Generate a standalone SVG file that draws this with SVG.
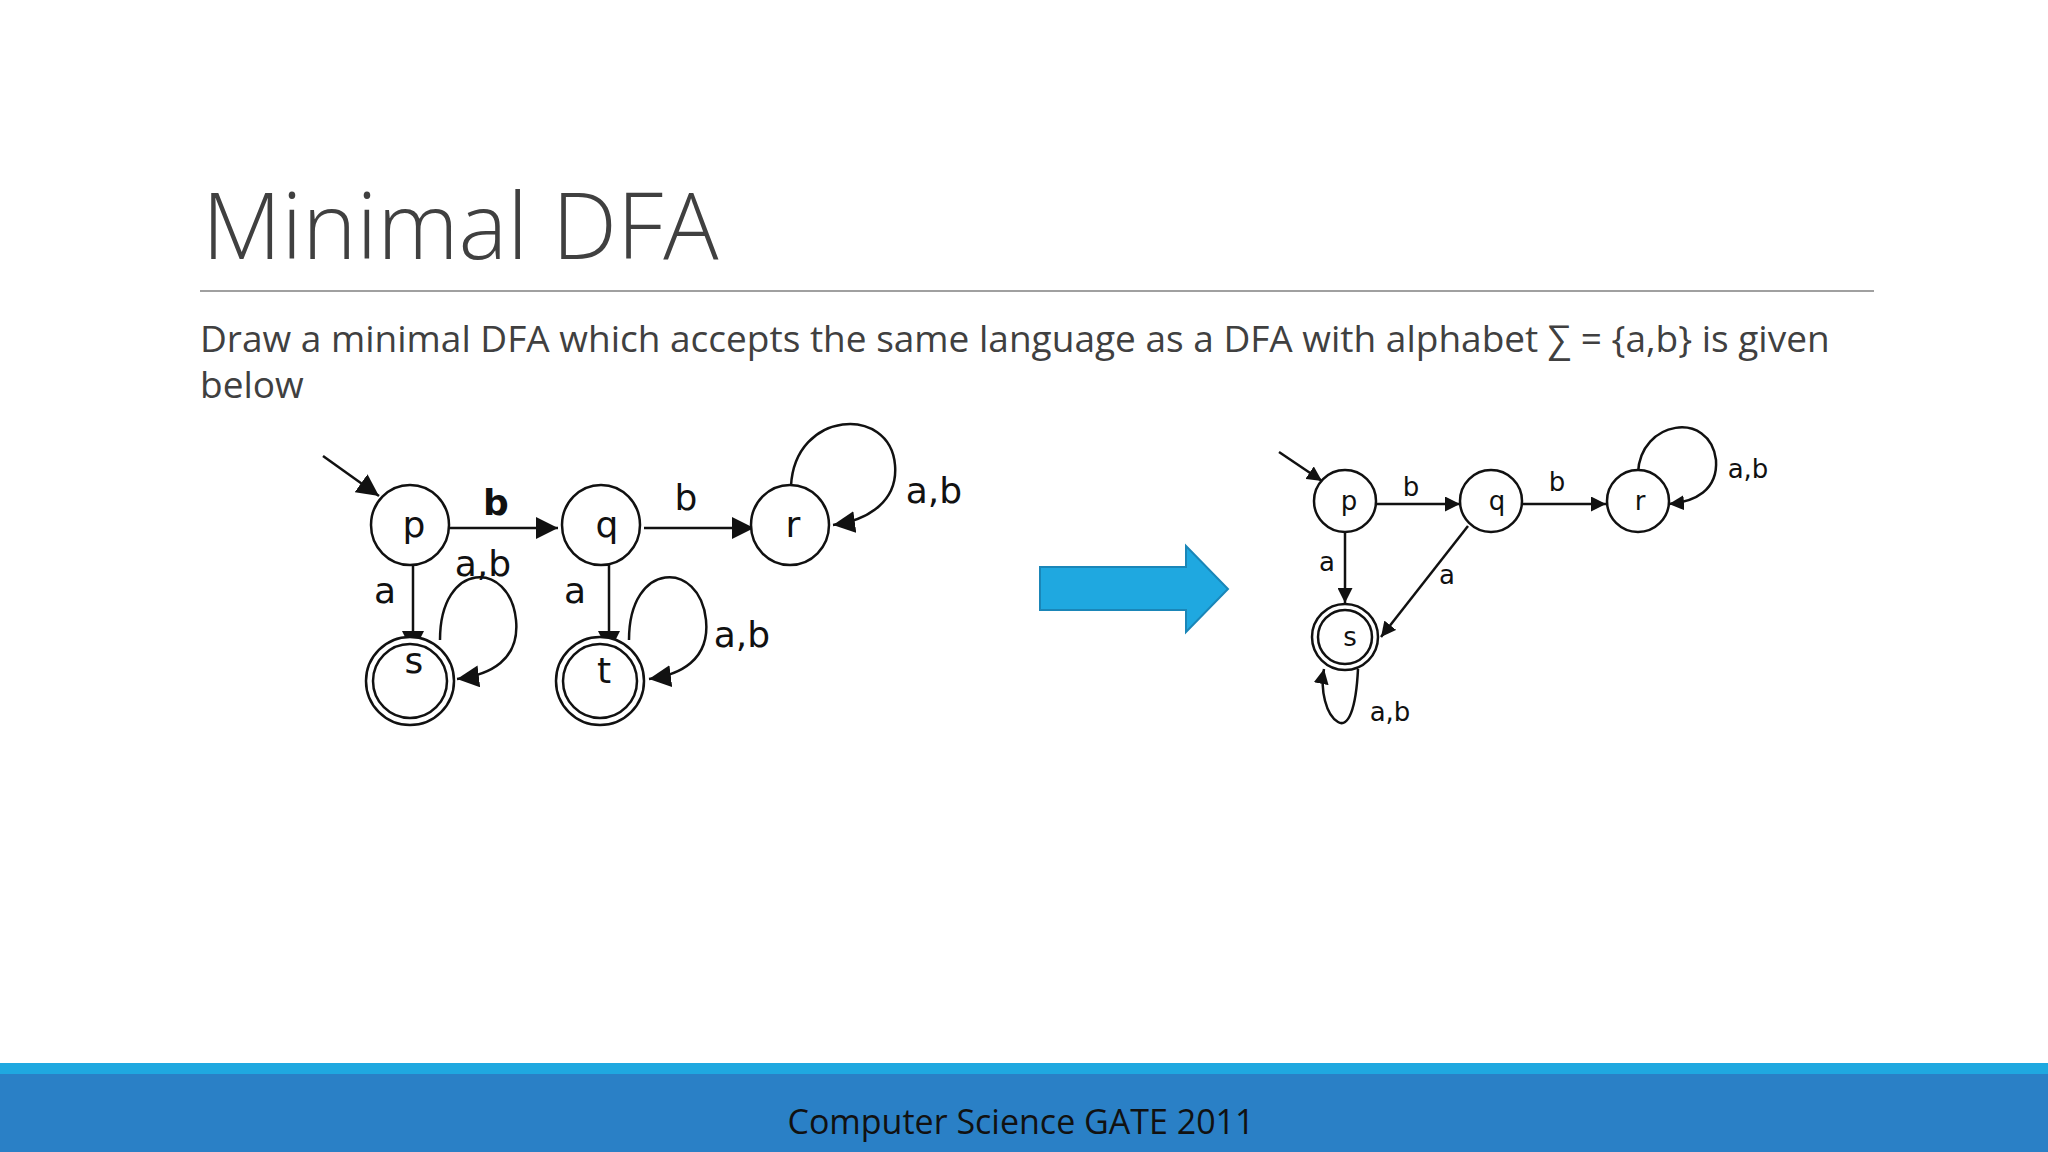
<svg xmlns="http://www.w3.org/2000/svg" width="2048" height="1152" viewBox="0 0 2048 1152">
<style>
.n{fill:#fff;stroke:#111;stroke-width:2.5}
.e{fill:none;stroke:#111;stroke-width:2.5}
.L{font-family:"DejaVu Sans",sans-serif;font-size:36px;fill:#111;text-anchor:middle}
.S{font-family:"DejaVu Sans",sans-serif;font-size:26px;fill:#111;text-anchor:middle}
</style>
<defs>
<marker id="a" viewBox="0 0 10 10" refX="10" refY="5" markerWidth="15" markerHeight="15" markerUnits="userSpaceOnUse" orient="auto"><path d="M0,0L10,5L0,10z" fill="#111"/></marker>
<marker id="b" viewBox="0 0 10 10" refX="10" refY="5" markerWidth="22" markerHeight="22" markerUnits="userSpaceOnUse" orient="auto"><path d="M0,0L10,5L0,10z" fill="#111"/></marker>
</defs>
<rect width="2048" height="1152" fill="#fff"/>
<text x="202" y="259" font-family="Open Sans, sans-serif" font-weight="300" font-size="92" fill="#404040">Minimal DFA</text>
<line x1="200" y1="291" x2="1874" y2="291" stroke="#a0a0a0" stroke-width="2"/>
<text font-family="Open Sans, sans-serif" font-size="37" fill="#404040"><tspan x="200" y="352">Draw a minimal DFA which accepts the same language as a DFA with alphabet ∑ = {a,b} is given</tspan><tspan x="200" y="398">below</tspan></text>

<g id="connectors">
<line class="e" x1="323" y1="456" x2="379" y2="496" marker-end="url(#b)"/>
<line class="e" x1="449" y1="528" x2="558" y2="528" marker-end="url(#b)"/>
<line class="e" x1="644" y1="528" x2="754" y2="528" marker-end="url(#b)"/>
<line class="e" x1="413" y1="564" x2="413" y2="653" marker-end="url(#b)"/>
<line class="e" x1="609" y1="564" x2="609" y2="653" marker-end="url(#b)"/>
<path class="e" d="M440,640 C440,560 510,560 516,620 C520,660 490,675 457,679" marker-end="url(#b)"/>
<path class="e" d="M629,640 C629,560 700,560 706,620 C710,660 680,675 649,679" marker-end="url(#b)"/>
<path class="e" d="M791,486 C795,410 890,405 895,465 C898,500 870,520 833,525" marker-end="url(#b)"/>
<line class="e" x1="1279" y1="452" x2="1322" y2="481" marker-end="url(#a)"/>
<line class="e" x1="1377" y1="504" x2="1460" y2="504" marker-end="url(#a)"/>
<line class="e" x1="1523" y1="504" x2="1606" y2="504" marker-end="url(#a)"/>
<line class="e" x1="1345" y1="533" x2="1345" y2="603" marker-end="url(#a)"/>
<line class="e" x1="1468" y1="526" x2="1381" y2="637" marker-end="url(#a)"/>
<path class="e" d="M1638,473 C1640,420 1710,410 1716,460 C1718,490 1695,502 1669,504" marker-end="url(#a)"/>
<path class="e" d="M1358,669 C1356,710 1348,728 1338,722 C1326,715 1320,690 1324,669" marker-end="url(#a)"/>
</g>
<g id="edge-labels">
<text class="L" x="496" y="515" font-weight="bold">b</text>
<text class="L" x="686" y="510">b</text>
<text class="L" x="385" y="603">a</text>
<text class="L" x="575" y="603">a</text>
<text class="L" x="483" y="576">a,b</text>
<text class="L" x="742" y="647">a,b</text>
<text class="L" x="934" y="503">a,b</text>
<text class="S" x="1411" y="496">b</text>
<text class="S" x="1557" y="491">b</text>
<text class="S" x="1327" y="571">a</text>
<text class="S" x="1447" y="584">a</text>
<text class="S" x="1748" y="478">a,b</text>
<text class="S" x="1390" y="721">a,b</text>
</g>

<g id="p1"><ellipse class="n" cx="410" cy="525" rx="39" ry="40"/><text class="L" x="414" y="537">p</text></g>
<g id="q1"><ellipse class="n" cx="601" cy="525" rx="39" ry="40"/><text class="L" x="607" y="537">q</text></g>
<g id="r1"><ellipse class="n" cx="790" cy="525" rx="39" ry="40"/><text class="L" x="793" y="537">r</text></g>
<g id="s1"><circle class="n" cx="410" cy="681" r="44"/><circle class="e" cx="410" cy="681" r="37"/><text class="L" x="414" y="673">s</text></g>
<g id="t1"><circle class="n" cx="600" cy="681" r="44"/><circle class="e" cx="600" cy="681" r="37"/><text class="L" x="604" y="683">t</text></g>

<g id="p2"><circle class="n" cx="1345" cy="501" r="31"/><text class="S" x="1349" y="510">p</text></g>
<g id="q2"><circle class="n" cx="1491" cy="501" r="31"/><text class="S" x="1497" y="510">q</text></g>
<g id="r2"><circle class="n" cx="1638" cy="501" r="31"/><text class="S" x="1640" y="510">r</text></g>
<g id="s2"><circle class="n" cx="1345" cy="637" r="33"/><circle class="e" cx="1345" cy="637" r="27"/><text class="S" x="1350" y="646">s</text></g>

<g id="bigarrow"><path d="M1040,567H1186V546L1228,589L1186,632V610H1040Z" fill="#1fa8e0" stroke="#1a86b8" stroke-width="2"/></g>

<g id="footer">
<rect x="0" y="1063" width="2048" height="11" fill="#1fa8e0"/>
<rect x="0" y="1074" width="2048" height="78" fill="#2a80c6"/>
<text x="1021" y="1134" font-family="Open Sans, sans-serif" font-size="34" fill="#111" text-anchor="middle">Computer Science GATE 2011</text>
</g>
</svg>
